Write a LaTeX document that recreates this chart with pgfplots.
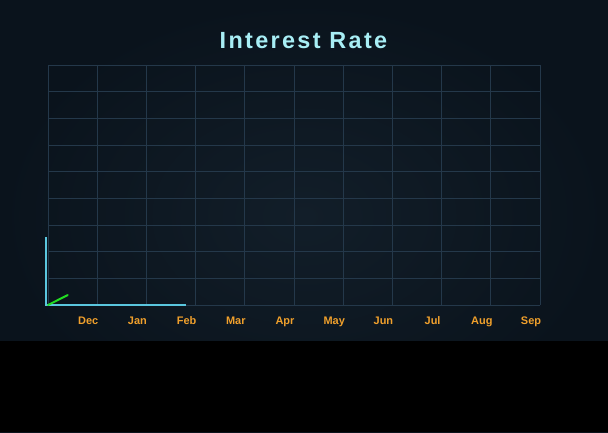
\documentclass[border=0pt]{standalone}
\usepackage{fontspec}
\setmainfont{Liberation Sans}
\newfontfamily\titlefont[LetterSpace=10]{Liberation Sans}
\usepackage{pgfplots}
\pgfplotsset{compat=1.18}

\definecolor{bgedge}{HTML}{0A131C}
\definecolor{bgmid}{HTML}{121E29}
\definecolor{gridc}{HTML}{24384A}
\definecolor{axcyan}{HTML}{5AC6DE}
\definecolor{titlec}{HTML}{A8EEF5}
\definecolor{monthc}{HTML}{F0A02C}
\definecolor{rateg}{HTML}{22DD22}

\begin{document}
\begin{tikzpicture}[x=1bp,y=1bp]
% background
\shade[inner color=bgmid, outer color=bgedge] (0,0) rectangle (608,432);
\fill[black] (0,0) rectangle (608,91);

% title
\node[anchor=base, text=titlec, font=\titlefont\bfseries\fontsize{23.5}{26}\selectfont]
  at (303.5,384) {Interest Rate};

\begin{axis}[
  at={(48bp,127bp)}, anchor=south west,
  width=492bp, height=240bp, scale only axis,
  xmin=0, xmax=10, ymin=0, ymax=9,
  xtick={0,...,10},
  xticklabels={,Dec,Jan,Feb,Mar,Apr,May,Jun,Jul,Aug,Sep},
  ytick={0,...,9}, yticklabels={},
  grid=major,
  grid style={draw=gridc, line width=0.8bp},
  axis line style={draw=none},
  major tick length=0pt,
  /pgf/number format/assume math mode=true,
  xticklabel style={text=monthc, font=\bfseries\fontsize{11}{12}\selectfont,
    xshift=-9bp, yshift=-8bp},
  clip=false,
]
% axis being drawn
\addplot[draw=axcyan, line width=2.6bp, line cap=butt, line join=miter]
  coordinates {(-0.04,2.55) (-0.04,0) (2.8,0)};
% interest rate line
\addplot[draw=rateg, line width=2bp, line cap=round]
  coordinates {(0,0) (0.4,0.37)};
\end{axis}
\end{tikzpicture}
\end{document}
